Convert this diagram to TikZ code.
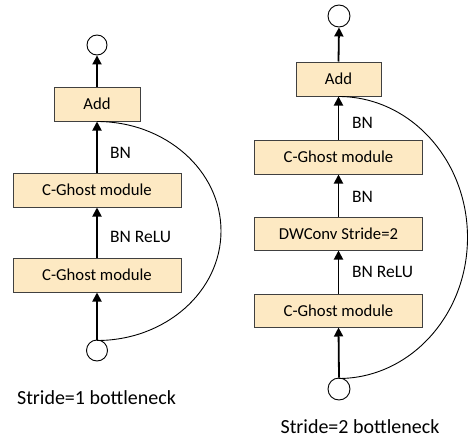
\documentclass[tikz,border=0pt]{standalone}
\usepackage{fontspec}
\setmainfont{Carlito}
\usetikzlibrary{arrows.meta}
\definecolor{boxfill}{HTML}{FDE9C3}
\definecolor{boxline}{HTML}{404040}
\tikzset{
  blk/.style={draw=boxline, line width=1pt, fill=boxfill, minimum height=34pt, inner sep=0pt,
    font=\fontsize{16.7}{20}\selectfont},
  ring/.style={draw=black, line width=0.9pt, circle, fill=white, inner sep=0pt},
  flow/.style={line width=1.8pt, -{Triangle[length=9pt,width=9pt]}},
  lbl/.style={anchor=west, inner sep=0pt, font=\fontsize{17.5}{20}\selectfont},
  captxt/.style={inner sep=0pt, font=\fontsize{20}{24}\selectfont},
  skip/.style={line width=0.9pt, black}
}
\begin{document}
\begin{tikzpicture}[x=1pt,y=-1pt]
\useasboundingbox (0,0) rectangle (474,439);
% left column
\node[ring, minimum size=20pt] (lout) at (97,45) {};
\node[blk, minimum width=86pt] (ladd) at (97,104) {Add};
\node[blk, minimum width=168pt] (lg2) at (97,190) {C-Ghost module};
\node[blk, minimum width=168pt] (lg1) at (97,275) {C-Ghost module};
\node[ring, minimum size=21pt] (lin) at (97,350.5) {};
\draw[flow] (lin.north) -- (lg1.south);
\draw[flow] (lg1.north) -- (lg2.south);
\draw[flow] (lg2.north) -- (ladd.south);
\draw[flow] (ladd.north) -- (lout.south);
\node[lbl] (lbn1) at (110,153) {BN};
\node[lbl] (lbn2) at (110,237) {BN ReLU};
\draw[skip] (ladd.south) arc[start angle=90, end angle=-90, x radius=124pt, y radius=109.5pt];
\node[captxt] (lcap) at (96.5,398) {Stride=1 bottleneck};
% right column
\node[ring, minimum size=22pt] (rout) at (339,16) {};
\node[blk, minimum width=85pt] (radd) at (338.5,79) {Add};
\node[blk, minimum width=168pt] (rg2) at (338.5,157) {C-Ghost module};
\node[blk, minimum width=168pt, minimum height=33pt] (rdw) at (338.5,233.5) {DWConv Stride=2};
\node[blk, minimum width=168pt, minimum height=33pt] (rg1) at (338.5,310.5) {C-Ghost module};
\node[ring, minimum size=22pt] (rin) at (339,389) {};
\draw[flow] (rin.north) -- (rg1.south);
\draw[flow] (rg1.north) -- (rdw.south);
\draw[flow] (rdw.north) -- (rg2.south);
\draw[flow] (rg2.north) -- (radd.south);
\draw[flow] (radd.north) -- (rout.south);
\node[lbl] (rbn1) at (352,123) {BN};
\node[lbl] (rbn2) at (352,197) {BN};
\node[lbl] (rbn3) at (352,272) {BN ReLU};
\draw[skip] (radd.south) arc[start angle=90, end angle=-90, x radius=129pt, y radius=141pt];
\node[captxt] (rcap) at (360,427) {Stride=2 bottleneck};
\end{tikzpicture}
\end{document}
